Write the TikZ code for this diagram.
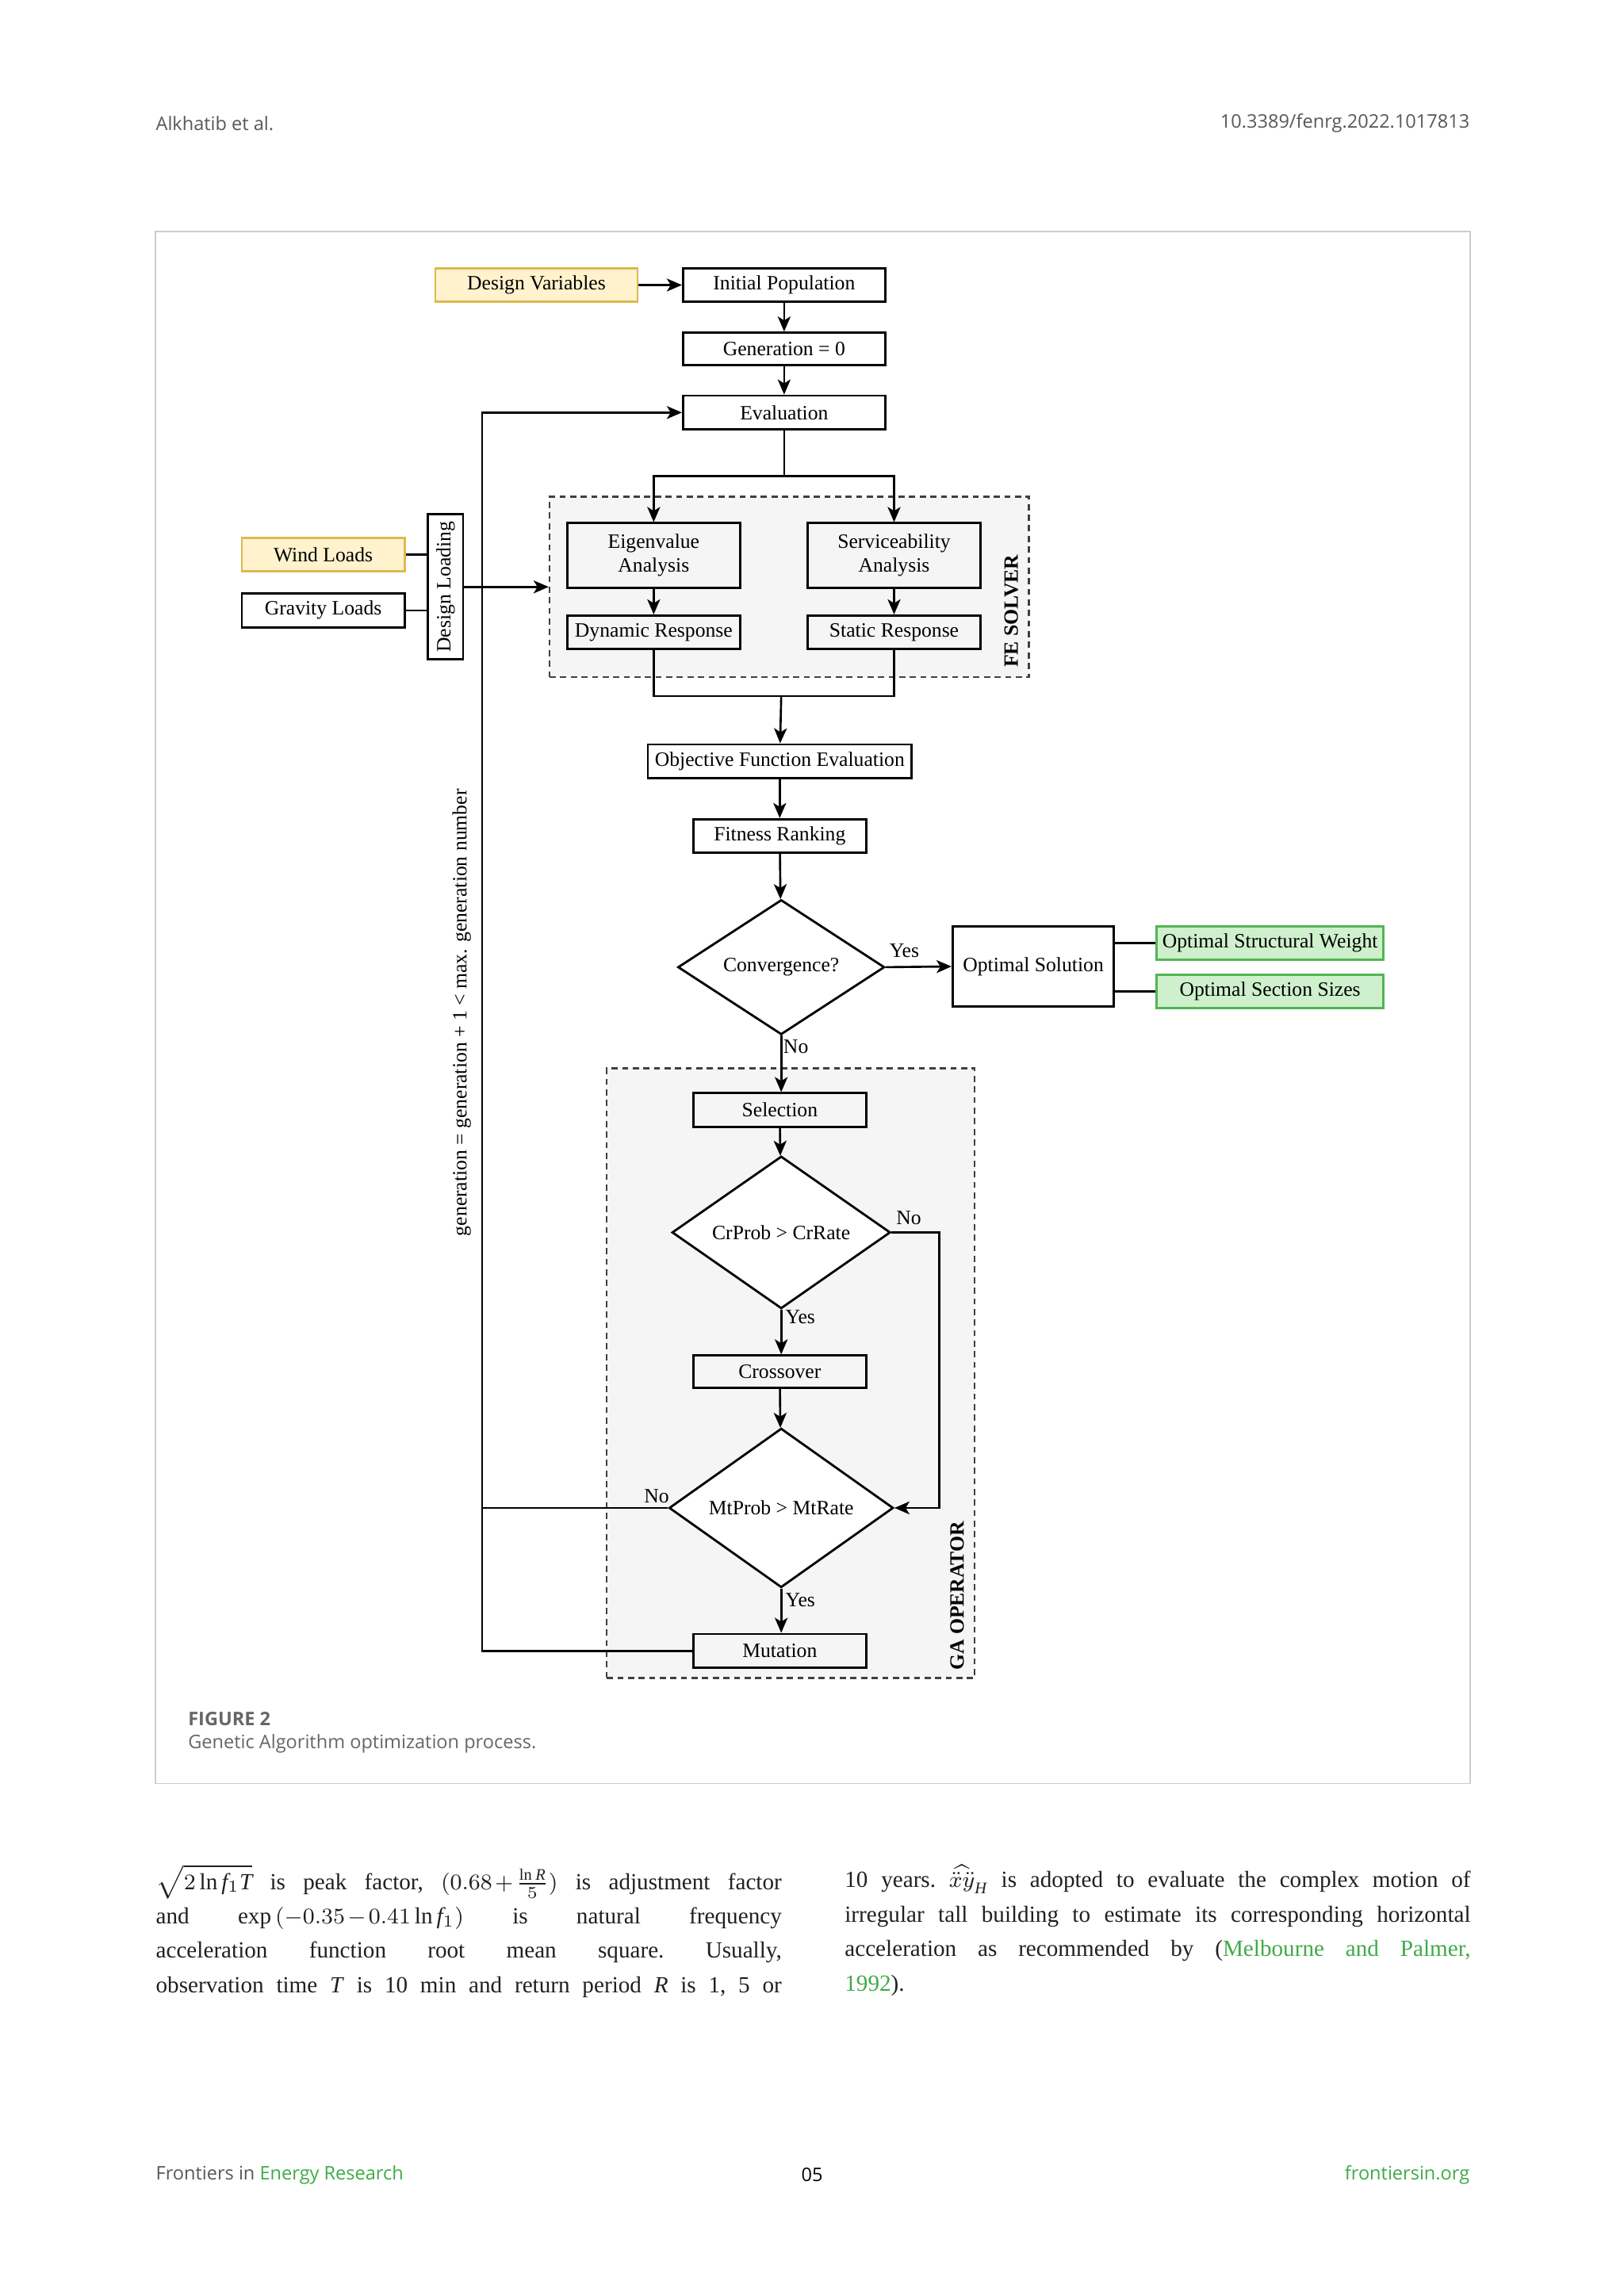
\documentclass[tikz,border=0pt]{standalone}
\usepackage{fontspec}
\setmainfont{Liberation Serif}
\newfontfamily\pagesans{Open Sans}
\usetikzlibrary{arrows.meta,shapes.geometric}
\newcommand{\du}{0.1848mm}
\newlength{\colwidth}
\setlength{\colwidth}{78.91mm}
\newcommand{\fullline}[1]{\hbox to\colwidth{\spaceskip=0.25em plus 1em\relax\xspaceskip=0pt\relax #1}}
\definecolor{inyellow}{RGB}{255,242,204}
\definecolor{inyellowline}{RGB}{222,184,80}
\definecolor{outgreen}{RGB}{206,240,204}
\definecolor{outgreenline}{RGB}{84,180,84}
\definecolor{groupgray}{RGB}{245,245,245}
\definecolor{framegray}{RGB}{205,205,205}
\definecolor{pagegray}{RGB}{88,88,88}
\definecolor{frgreen}{RGB}{64,170,72}
\definecolor{bodyink}{RGB}{35,31,32}
\tikzset{
  chartfont/.style={font=\fontsize{7.3}{8.4}\selectfont},
  blockbox/.style={draw, line width=0.8pt, rectangle, inner sep=0pt, align=center, chartfont,
    minimum width=118*\du, minimum height=23*\du},
  inputbox/.style={blockbox, fill=inyellow, draw=inyellowline},
  outputbox/.style={blockbox, fill=outgreen, draw=outgreenline, minimum width=155*\du},
  decision/.style={draw, line width=0.8pt, diamond, fill=white, inner sep=0pt, chartfont},
  flowarrow/.style={line width=0.75pt, -{Stealth[length=5.4pt,width=4.6pt,inset=1.4pt]}},
  flowline/.style={line width=0.75pt},
  flowlabel/.style={chartfont, inner sep=0pt},
  groupframe/.style={draw=black!75, dash pattern=on 2.2pt off 1.6pt, line width=0.7pt, fill=groupgray, inner sep=0pt},
  grouptitle/.style={rotate=90, font=\fontsize{7.3}{8.4}\selectfont\bfseries, inner sep=0pt},
  pagetext/.style={font=\pagesans\fontsize{6.7}{8}\selectfont, text=pagegray, inner sep=0pt},
  bodytext/.style={font=\fontsize{8.3}{12.35}\selectfont\frenchspacing, text=bodyink, text width=\colwidth, align=left, inner sep=0pt}
}
\begin{document}
\begin{tikzpicture}[x=\du, y=-\du]
		%%%%% PAGE %%%%%
		\fill[white] (0,0) rectangle (1108,1566.8);
		\useasboundingbox (0,0) rectangle (1108,1566.8);
		
		\node[pagetext, anchor=west] (author) at (106,84) {Alkhatib et al.};
		\node[pagetext, anchor=east] (doi) at (1003,84) {10.3389/fenrg.2022.1017813};
		
		\draw[framegray, line width=0.5pt] (106,158) rectangle (1003,1217);
		
		%%%%% GROUPS %%%%%
		\node[groupframe, minimum width=327*\du, minimum height=123*\du] (fesolver) at (538.5,400.5) {};
		\node[grouptitle] (fetitle) at (690,417) {FE SOLVER};
		\node[groupframe, minimum width=251*\du, minimum height=416*\du] (gaoperator) at (539.5,937) {};
		\node[grouptitle] (gatitle) at (653,1089) {GA OPERATOR};
		
		%%%%% START %%%%%
		\node[inputbox, minimum width=138*\du] (designvars) at (366,194.5) {Design Variables};
		\node[blockbox, minimum width=138*\du] (initpop) at (535,194.5) {Initial Population};
		\node[blockbox, minimum width=138*\du, minimum height=22*\du] (genzero) at (535,238) {Generation = 0};
		\node[blockbox, minimum width=138*\du] (evaluation) at (535,281.5) {Evaluation};
		
		\draw[flowarrow] (designvars) -- (initpop);
		\draw[flowarrow] (initpop) -- (genzero);
		\draw[flowarrow] (genzero) -- (evaluation);
		
		%%%%% FE SOLVER %%%%%
		\node[blockbox, minimum height=44*\du] (eigen) at (446,379) {Eigenvalue\\Analysis};
		\node[blockbox, minimum height=44*\du] (service) at (610,379) {Serviceability\\Analysis};
		\node[blockbox] (dynresp) at (446,431.5) {Dynamic Response};
		\node[blockbox] (statresp) at (610,431.5) {Static Response};
		
		\coordinate (split) at (535,325);
		\draw[flowline] (evaluation) -- (split);
		\draw[flowarrow] (split) -| (eigen);
		\draw[flowarrow] (split) -| (service);
		\draw[flowarrow] (eigen) -- (dynresp);
		\draw[flowarrow] (service) -- (statresp);
		
		\coordinate (merge) at (533,475);
		\draw[flowline] (dynresp) |- (merge);
		\draw[flowline] (statresp) |- (merge);
		
		%%%%% LOADS %%%%%
		\node[inputbox, minimum width=111*\du] (windloads) at (220.5,378.5) {Wind Loads};
		\node[blockbox, minimum width=111*\du] (gravloads) at (220.5,416.5) {Gravity Loads};
		\node[blockbox, rotate=90, minimum width=99*\du, minimum height=24*\du] (designload) at (304,400.5) {Design Loading};
		
		\draw[flowline] (windloads.east) -- (windloads.east -| designload.north);
		\draw[flowline] (gravloads.east) -- (gravloads.east -| designload.north);
		\draw[flowarrow] (designload.south) -- (fesolver.west);
		
		%%%%% EVALUATION %%%%%
		\node[blockbox, minimum width=180*\du] (objfunc) at (532,519.5) {Objective Function Evaluation};
		\node[blockbox] (fitness) at (532,570.5) {Fitness Ranking};
		\node[decision, minimum width=141*\du, minimum height=92*\du] (converge) at (533,660) {Convergence?};
		
		\draw[flowarrow] (merge) -- (objfunc);
		\draw[flowarrow] (objfunc) -- (fitness);
		\draw[flowarrow] (fitness) -- (converge);
		
		\node[blockbox, minimum width=110*\du, minimum height=55*\du] (optsol) at (705,659.5) {Optimal Solution};
		\node[outputbox] (optweight) at (866.5,643.5) {Optimal Structural Weight};
		\node[outputbox] (optsizes) at (866.5,676.5) {Optimal Section Sizes};
		
		\draw[flowarrow] (converge.east) -- (optsol.west);
		\node[flowlabel] (convyes) at (617,649) {Yes};
		\draw[flowline] (optweight.west -| optsol.east) -- (optweight.west);
		\draw[flowline] (optsizes.west -| optsol.east) -- (optsizes.west);
		
		%%%%% GA OPERATOR %%%%%
		\node[blockbox] (selection) at (532,757.5) {Selection};
		\node[decision, minimum width=149*\du, minimum height=92*\du] (crtest) at (533,841) {CrProb > CrRate};
		\node[blockbox, minimum height=22*\du] (crossover) at (532,936) {Crossover};
		\node[decision, minimum width=153*\du, minimum height=104*\du] (mttest) at (533,1029) {MtProb > MtRate};
		\node[blockbox] (mutation) at (532,1126.5) {Mutation};
		
		\draw[flowarrow] (converge.south) -- (selection.north -| converge.south);
		\node[flowlabel] (convno) at (543,714) {No};
		\draw[flowarrow] (selection) -- (crtest);
		\draw[flowarrow] (crtest.south) -- (crossover.north -| crtest.south);
		\node[flowlabel] (cryes) at (546,899) {Yes};
		\draw[flowarrow] (crossover) -- (mttest);
		\draw[flowarrow] (mttest.south) -- (mutation.north -| mttest.south);
		\node[flowlabel] (mtyes) at (546,1092) {Yes};
		
		\coordinate (skip) at (641,841);
		\draw[flowarrow] (crtest.east) -- (skip) |- (mttest.east);
		\node[flowlabel] (crno) at (620,831) {No};
		
		%%%%% LOOP BACK %%%%%
		\coordinate (back) at (329,1126.5);
		\draw[flowarrow] (mutation.west) -- (back) |- (evaluation.west);
		\draw[flowline] (mttest.west) -- (mttest.west -| back);
		\node[flowlabel] (mtno) at (448,1021) {No};
		\node[flowlabel, rotate=90] (genrule) at (315,691) {generation = generation + 1 < max. generation number};
		
		%%%%% END %%%%%
		
		%%%%% CAPTION AND TEXT %%%%%
		\node[pagetext, anchor=west, font=\pagesans\fontsize{6.7}{8}\selectfont\bfseries, text=black!60] (figlabel) at (128,1173) {FIGURE 2};
		\node[pagetext, anchor=west, text=black!60] (figcaption) at (128,1190) {Genetic Algorithm optimization process.};
		
		\node[bodytext, anchor=north west] (leftcol) at (106,1272) {\medmuskip=2mu
			\fullline{$\sqrt{2\ln \mathit{f}_1\mathit{T}}$ is peak factor, $(0.68+\frac{\ln \mathit{R}}{5})$ is adjustment factor}
			\fullline{and exp\,$(-0.35-0.41\ln \mathit{f}_1)$ is natural frequency}
			\fullline{acceleration function root mean square. Usually,}
			\fullline{observation time \textit{T} is 10 min and return period \textit{R} is 1, 5 or}};
		\node[bodytext, anchor=north west] (rightcol) at (576,1272) {
			\fullline{10 years. $\widehat{\ddot{x}\ddot{y}}_{\mathit{H}}$ is adopted to evaluate the complex motion of}
			\fullline{irregular tall building to estimate its corresponding horizontal}
			\fullline{acceleration as recommended by (\textcolor{frgreen}{Melbourne and Palmer,}}
			\hbox{\textcolor{frgreen}{1992}).}};
		
		\node[pagetext, anchor=west] (journal) at (106,1484) {Frontiers in \textcolor{frgreen}{Energy Research}};
		\node[pagetext, text=black] (pageno) at (554,1484) {05};
		\node[pagetext, anchor=east, text=frgreen] (website) at (1003,1484) {frontiersin.org};
	\end{tikzpicture}
\end{document}
